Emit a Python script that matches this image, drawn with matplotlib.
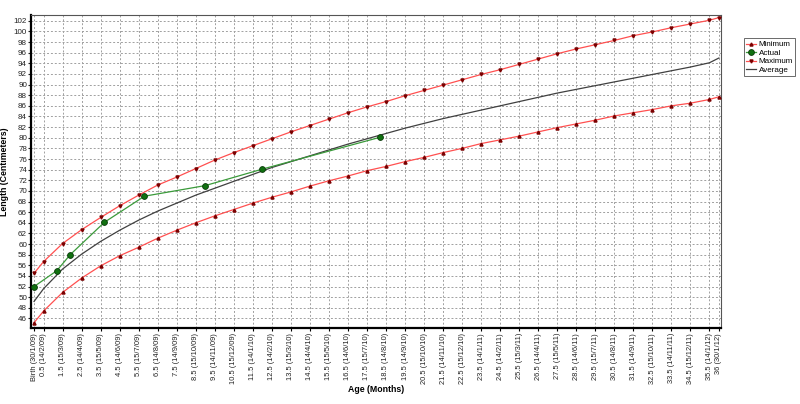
import matplotlib
matplotlib.use("Agg")
import matplotlib.pyplot as plt

# ages (months) at which the reference curves are given
ages = [0, 0.5, 1.5, 2.5, 3.5, 4.5, 5.5, 6.5, 7.5, 8.5, 9.5, 10.5, 11.5, 12.5,
        13.5, 14.5, 15.5, 16.5, 17.5, 18.5, 19.5, 20.5, 21.5, 22.5, 23.5, 24.5,
        25.5, 26.5, 27.5, 28.5, 29.5, 30.5, 31.5, 32.5, 33.5, 34.5, 35.5, 36]

tick_labels = ["Birth (30/1/09)", "0.5 (14/2/09)", "1.5 (15/3/09)", "2.5 (14/4/09)",
               "3.5 (15/5/09)", "4.5 (14/6/09)", "5.5 (15/7/09)", "6.5 (14/8/09)",
               "7.5 (14/9/09)", "8.5 (15/10/09)", "9.5 (14/11/09)", "10.5 (15/12/09)",
               "11.5 (14/1/10)", "12.5 (14/2/10)", "13.5 (15/3/10)", "14.5 (14/4/10)",
               "15.5 (15/5/10)", "16.5 (14/6/10)", "17.5 (15/7/10)", "18.5 (14/8/10)",
               "19.5 (14/9/10)", "20.5 (15/10/10)", "21.5 (14/11/10)", "22.5 (15/12/10)",
               "23.5 (14/1/11)", "24.5 (14/2/11)", "25.5 (15/3/11)", "26.5 (14/4/11)",
               "27.5 (15/5/11)", "28.5 (14/6/11)", "29.5 (15/7/11)", "30.5 (14/8/11)",
               "31.5 (14/9/11)", "32.5 (15/10/11)", "33.5 (14/11/11)", "34.5 (15/12/11)",
               "35.5 (14/1/12)", "36 (30/1/12)"]

minimum = [45.2, 47.4, 50.9, 53.6, 55.9, 57.8, 59.4, 61.1, 62.6, 64.0, 65.3, 66.5,
           67.7, 68.8, 69.8, 70.9, 71.9, 72.8, 73.8, 74.6, 75.5, 76.3, 77.2, 78.0,
           78.9, 79.6, 80.3, 81.1, 81.9, 82.6, 83.3, 84.1, 84.7, 85.3, 86.0, 86.5,
           87.2, 87.7]

maximum = [54.5, 56.7, 60.1, 62.7, 65.0, 67.2, 69.2, 71.1, 72.6, 74.2, 75.8, 77.2,
           78.5, 79.8, 81.1, 82.3, 83.5, 84.7, 85.8, 86.8, 87.9, 88.9, 89.9, 90.9,
           91.9, 92.8, 93.8, 94.8, 95.8, 96.7, 97.5, 98.3, 99.2, 99.9, 100.7, 101.4,
           102.1, 102.6]

average = [49.2, 51.6, 55.3, 58.1, 60.5, 62.6, 64.5, 66.2, 67.7, 69.2, 70.5, 71.8,
           73.1, 74.4, 75.5, 76.6, 77.7, 78.8, 79.8, 80.8, 81.8, 82.7, 83.6, 84.4,
           85.2, 86.0, 86.8, 87.6, 88.4, 89.1, 89.8, 90.5, 91.2, 91.9, 92.6, 93.3,
           94.1, 95.0]

actual_ages = [0, 1.2, 1.9, 3.7, 5.8, 9.0, 12.0, 18.2]
actual = [52.0, 55.0, 58.0, 64.1, 69.0, 71.0, 74.1, 80.1]

plt.rcParams["font.family"] = ["Liberation Sans", "DejaVu Sans"]

fig = plt.figure(figsize=(8, 4.04), dpi=100)
ax = fig.add_axes([0.039, 0.188, 0.862, 0.775])

ax.plot(ages, minimum, color="#ff5050", lw=0.9, marker="^", ms=2.2,
        mfc="#7a0000", mec="#7a0000", label="Minimum", zorder=3)
ax.plot(actual_ages, actual, color="#3a9a3a", lw=0.9, marker="o", ms=4.2,
        mfc="#107010", mec="#0a3a0a", mew=0.6, label="Actual", zorder=4)
ax.plot(ages, maximum, color="#ff5050", lw=0.9, marker="v", ms=2.2,
        mfc="#7a0000", mec="#7a0000", label="Maximum", zorder=3)
ax.plot(ages, average, color="#404040", lw=0.9, label="Average", zorder=2)

ax.set_xlim(-0.15, 36.1)
ax.set_ylim(44.2, 103.1)
ax.set_xticks(ages)
ax.set_xticklabels(tick_labels, rotation=90, fontsize=5.4, color="#222222")
ax.set_yticks(range(46, 103, 2))
ax.tick_params(axis="y", labelsize=5.8, length=2, pad=1, colors="#222222")
ax.tick_params(axis="x", length=2, pad=1.5)

ax.grid(True, color="#a0a0a0", ls=(0, (2, 2)), lw=0.7)
ax.set_axisbelow(True)

ax.spines["left"].set_linewidth(1.6)
ax.spines["bottom"].set_linewidth(1.6)
ax.spines["top"].set_color("#555555")
ax.spines["right"].set_color("#555555")

ax.set_ylabel("Length (Centimeters)", fontsize=6.3, fontweight="bold")
ax.yaxis.set_label_coords(-0.032, 0.5)
ax.set_xlabel("Age (Months)", fontsize=6.3, fontweight="bold")
ax.xaxis.set_label_coords(0.5, -0.182)

leg = ax.legend(loc="upper left", bbox_to_anchor=(0.930, 0.905),
                bbox_transform=fig.transFigure, fontsize=5.8, frameon=True,
                fancybox=False, edgecolor="#444444", borderpad=0.3,
                labelspacing=0.1, handlelength=1.2, handletextpad=0.3,
                borderaxespad=0)
leg.get_frame().set_linewidth(0.7)

fig.savefig("out.png", dpi=100)
